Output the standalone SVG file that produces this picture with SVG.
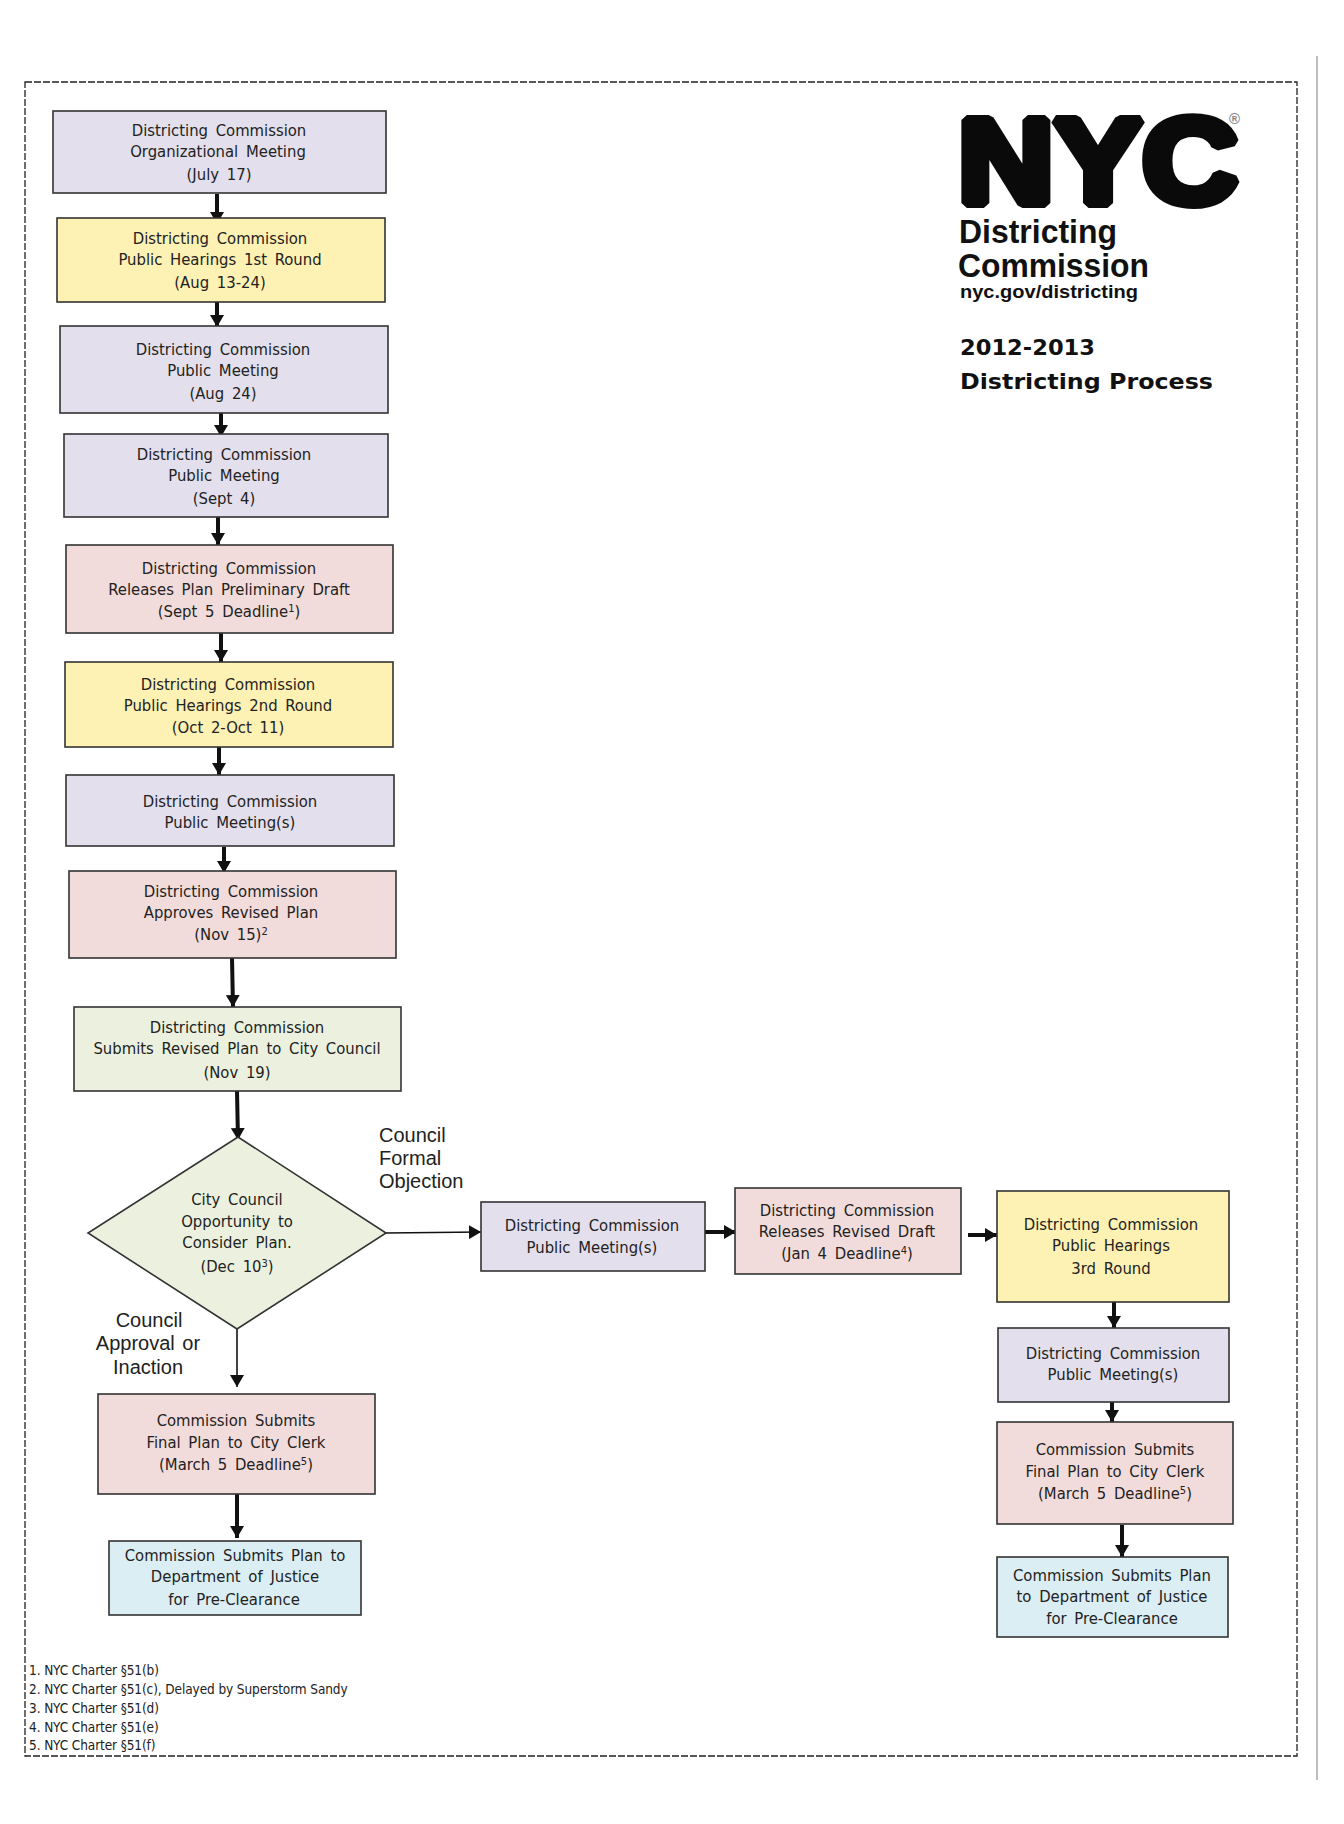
<svg xmlns="http://www.w3.org/2000/svg" width="1344" height="1824" viewBox="0 0 1344 1824">
<defs>
<style>
.b{stroke:#333;stroke-width:1.6}
.p{fill:#e3dfec}.y{fill:#fdf1b3}.k{fill:#f2dcdb}.g{fill:#ebf1de}.u{fill:#dbeef4}
text{fill:#222}
.t{font-family:"DejaVu Sans",sans-serif;font-stretch:condensed;font-size:16.5px;word-spacing:3px;text-anchor:middle}
.l{font-family:"Liberation Sans",Arial,sans-serif;font-size:20px}
.f{font-family:"DejaVu Sans",sans-serif;font-stretch:condensed;font-size:13.5px;letter-spacing:-.1px}
.h{font-family:"Liberation Sans",Arial,sans-serif;font-weight:bold;fill:#111}
.v{font-family:"DejaVu Sans",sans-serif;font-weight:bold;fill:#111;font-size:22px}
.s{font-size:11px}
.c{fill:none;stroke:#111}
.w{stroke-width:4}.n{stroke-width:1.6}
</style>
<marker id="a" markerUnits="userSpaceOnUse" markerWidth="14" markerHeight="14" refX="12" refY="7" orient="auto"><path d="M0 0L12 7L0 14Z" fill="#111"/></marker>
</defs>
<rect width="1344" height="1824" fill="#fff"/>
<rect x="25" y="82" width="1272" height="1674" fill="none" stroke="#222" stroke-width="1.3" stroke-dasharray="7 2"/>
<path d="M1317 56V1780" stroke="#aaa" stroke-width="1.5" fill="none"/>

<g id="logo">
<text x="958" y="203" class="h" font-size="120" textLength="280" lengthAdjust="spacingAndGlyphs" stroke="#0a0a0a" stroke-width="10" stroke-linejoin="bevel" style="fill:#0a0a0a">NYC</text>
<path d="M1181 150H1205V157H1243V167H1205V173H1181Z" fill="#fff"/>
<text x="1229" y="124" class="h" font-size="15" style="fill:#888">®</text>
<text x="959" y="243" class="h" font-size="32.5" textLength="158" lengthAdjust="spacingAndGlyphs">Districting</text>
<text x="958" y="277" class="h" font-size="32.5" textLength="191" lengthAdjust="spacingAndGlyphs">Commission</text>
<text x="960" y="298" class="h" font-size="19" textLength="178" lengthAdjust="spacingAndGlyphs">nyc.gov/districting</text>
<text x="960" y="355" class="v" textLength="135" lengthAdjust="spacingAndGlyphs">2012-2013</text>
<text x="960" y="389" class="v" textLength="253" lengthAdjust="spacingAndGlyphs">Districting Process</text>
</g>

<g id="connectors" class="c">
<path class="w" marker-end="url(#a)" d="M217 194V224"/>
<path class="w" marker-end="url(#a)" d="M217 300V327"/>
<path class="w" marker-end="url(#a)" d="M221 412V437"/>
<path class="w" marker-end="url(#a)" d="M218 517V545"/>
<path class="w" marker-end="url(#a)" d="M221 633V662"/>
<path class="w" marker-end="url(#a)" d="M219 747V775"/>
<path class="w" marker-end="url(#a)" d="M224 847V873"/>
<path class="w" marker-end="url(#a)" d="M232 958L233 1007"/>
<path class="w" marker-end="url(#a)" d="M237 1091L238 1140"/>
<path class="n" marker-end="url(#a)" d="M386 1233L481 1232"/>
<path class="n" marker-end="url(#a)" d="M237 1329V1387"/>
<path class="w" marker-end="url(#a)" d="M237 1494V1538"/>
<path class="w" marker-end="url(#a)" d="M705 1232H736"/>
<path class="w" marker-end="url(#a)" d="M968 1235H997"/>
<path class="w" marker-end="url(#a)" d="M1114 1302V1328"/>
<path class="w" marker-end="url(#a)" d="M1112 1402V1422"/>
<path class="w" marker-end="url(#a)" d="M1122 1525V1557"/>
</g>

<g id="n1"><rect class="b p" x="53" y="111" width="333" height="82"/><text class="t"><tspan x="219" y="136">Districting Commission</tspan><tspan x="218" y="157">Organizational Meeting</tspan><tspan x="219" y="180">(July 17)</tspan></text></g>
<g id="n2"><rect class="b y" x="57" y="218" width="328" height="84"/><text class="t"><tspan x="220" y="244">Districting Commission</tspan><tspan x="220" y="265">Public Hearings 1st Round</tspan><tspan x="220" y="288">(Aug 13-24)</tspan></text></g>
<g id="n3"><rect class="b p" x="60" y="326" width="328" height="87"/><text class="t"><tspan x="223" y="355">Districting Commission</tspan><tspan x="223" y="376">Public Meeting</tspan><tspan x="223" y="399">(Aug 24)</tspan></text></g>
<g id="n4"><rect class="b p" x="64" y="434" width="324" height="83"/><text class="t"><tspan x="224" y="460">Districting Commission</tspan><tspan x="224" y="481">Public Meeting</tspan><tspan x="224" y="504">(Sept 4)</tspan></text></g>
<g id="n5"><rect class="b k" x="66" y="545" width="327" height="88"/><text class="t"><tspan x="229" y="574">Districting Commission</tspan><tspan x="229" y="595">Releases Plan Preliminary Draft</tspan><tspan x="229" y="617">(Sept 5 Deadline<tspan class="s" dy="-5">1</tspan><tspan dy="5">)</tspan></tspan></text></g>
<g id="n6"><rect class="b y" x="65" y="662" width="328" height="85"/><text class="t"><tspan x="228" y="690">Districting Commission</tspan><tspan x="228" y="711">Public Hearings 2nd Round</tspan><tspan x="228" y="733">(Oct 2-Oct 11)</tspan></text></g>
<g id="n7"><rect class="b p" x="66" y="775" width="328" height="71"/><text class="t"><tspan x="230" y="807">Districting Commission</tspan><tspan x="230" y="828">Public Meeting(s)</tspan></text></g>
<g id="n8"><rect class="b k" x="69" y="871" width="327" height="87"/><text class="t"><tspan x="231" y="897">Districting Commission</tspan><tspan x="231" y="918">Approves Revised Plan</tspan><tspan x="231" y="940">(Nov 15)<tspan class="s" dy="-5">2</tspan></tspan></text></g>
<g id="n9"><rect class="b g" x="74" y="1007" width="327" height="84"/><text class="t"><tspan x="237" y="1033">Districting Commission</tspan><tspan x="237" y="1054">Submits Revised Plan to City Council</tspan><tspan x="237" y="1078">(Nov 19)</tspan></text></g>
<g id="n10"><path class="b g" d="M238 1137L386 1233L237 1329L88 1233Z"/><text class="t"><tspan x="237" y="1205">City Council</tspan><tspan x="237" y="1227">Opportunity to</tspan><tspan x="237" y="1248">Consider Plan.</tspan><tspan x="237" y="1272">(Dec 10<tspan class="s" dy="-5">3</tspan><tspan dy="5">)</tspan></tspan></text></g>
<g id="n11"><rect class="b k" x="98" y="1394" width="277" height="100"/><text class="t"><tspan x="236" y="1426">Commission Submits</tspan><tspan x="236" y="1448">Final Plan to City Clerk</tspan><tspan x="236" y="1470">(March 5 Deadline<tspan class="s" dy="-5">5</tspan><tspan dy="5">)</tspan></tspan></text></g>
<g id="n12"><rect class="b u" x="109" y="1541" width="252" height="74"/><text class="t"><tspan x="235" y="1561">Commission Submits Plan to</tspan><tspan x="235" y="1582">Department of Justice</tspan><tspan x="234" y="1605">for Pre-Clearance</tspan></text></g>
<g id="n13"><rect class="b p" x="481" y="1202" width="224" height="69"/><text class="t"><tspan x="592" y="1231">Districting Commission</tspan><tspan x="592" y="1253">Public Meeting(s)</tspan></text></g>
<g id="n14"><rect class="b k" x="735" y="1188" width="226" height="86"/><text class="t"><tspan x="847" y="1216">Districting Commission</tspan><tspan x="847" y="1237">Releases Revised Draft</tspan><tspan x="847" y="1259">(Jan 4 Deadline<tspan class="s" dy="-5">4</tspan><tspan dy="5">)</tspan></tspan></text></g>
<g id="n15"><rect class="b y" x="997" y="1191" width="232" height="111"/><text class="t"><tspan x="1111" y="1230">Districting Commission</tspan><tspan x="1111" y="1251">Public Hearings</tspan><tspan x="1111" y="1274">3rd Round</tspan></text></g>
<g id="n16"><rect class="b p" x="998" y="1328" width="231" height="74"/><text class="t"><tspan x="1113" y="1359">Districting Commission</tspan><tspan x="1113" y="1380">Public Meeting(s)</tspan></text></g>
<g id="n17"><rect class="b k" x="997" y="1422" width="236" height="102"/><text class="t"><tspan x="1115" y="1455">Commission Submits</tspan><tspan x="1115" y="1477">Final Plan to City Clerk</tspan><tspan x="1115" y="1499">(March 5 Deadline<tspan class="s" dy="-5">5</tspan><tspan dy="5">)</tspan></tspan></text></g>
<g id="n18"><rect class="b u" x="997" y="1557" width="231" height="80"/><text class="t"><tspan x="1112" y="1581">Commission Submits Plan</tspan><tspan x="1112" y="1602">to Department of Justice</tspan><tspan x="1112" y="1624">for Pre-Clearance</tspan></text></g>

<g id="labels">
<text class="l"><tspan x="379" y="1142">Council</tspan><tspan x="379" y="1165">Formal</tspan><tspan x="379" y="1188">Objection</tspan></text>
<text class="l" text-anchor="middle" word-spacing="2"><tspan x="149" y="1327">Council</tspan><tspan x="148" y="1350">Approval or</tspan><tspan x="148" y="1374">Inaction</tspan></text>
<text class="f"><tspan x="29" y="1675">1. NYC Charter §51(b)</tspan><tspan x="29" y="1694">2. NYC Charter §51(c), Delayed by Superstorm Sandy</tspan><tspan x="29" y="1713">3. NYC Charter §51(d)</tspan><tspan x="29" y="1732">4. NYC Charter §51(e)</tspan><tspan x="29" y="1750">5. NYC Charter §51(f)</tspan></text>
</g>
</svg>
